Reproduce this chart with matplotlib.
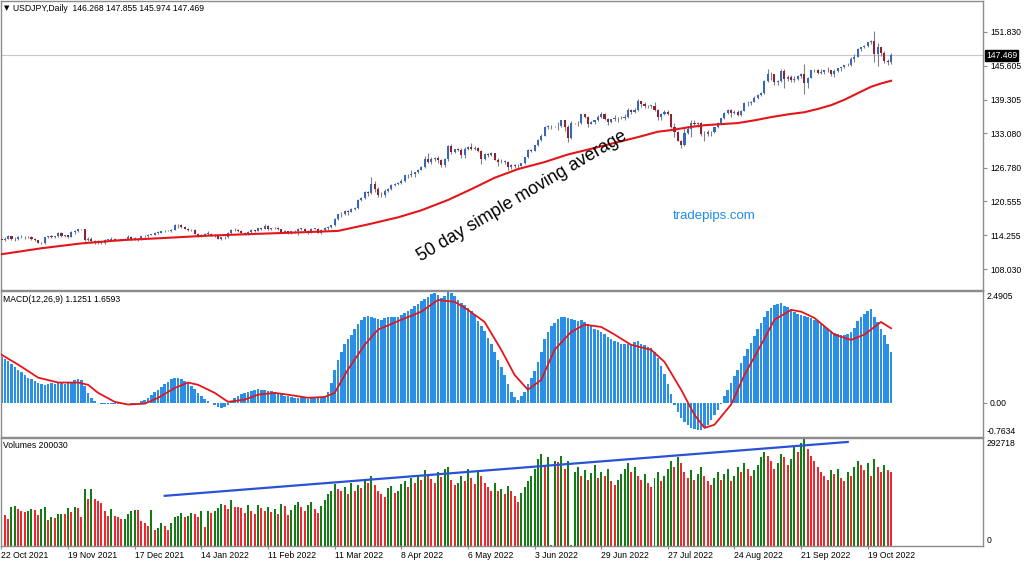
import numpy as np
import matplotlib.pyplot as plt

plt.rcParams['font.family'] = ['Liberation Sans', 'DejaVu Sans']

# ---- data ----
date_labels = ['22 Oct 2021', '19 Nov 2021', '17 Dec 2021', '14 Jan 2022', '11 Feb 2022',
               '11 Mar 2022', '8 Apr 2022', '6 May 2022', '3 Jun 2022', '29 Jun 2022',
               '27 Jul 2022', '24 Aug 2022', '21 Sep 2022', '19 Oct 2022']
label_bars = list(range(0, 261, 20))

first_open = 113.7
closes = [
    113.5, 113.7, 114.1, 113.6, 113.6, 114.0, 114.0, 113.9, 114.0, 113.7,
    113.4, 112.9, 112.8, 113.9, 114.1, 113.9, 114.1, 114.8, 114.1, 114.3,
    114.0, 114.9, 115.1, 115.4, 115.4, 113.4, 113.6, 113.2, 112.8, 113.2,
    112.8, 113.5, 113.5, 113.7, 113.5, 113.4, 113.6, 113.7, 114.0, 113.7,
    113.7, 113.6, 114.1, 114.1, 114.4, 114.4, 114.8, 114.8, 115.0, 115.1,
    115.1, 115.3, 116.1, 116.1, 115.8, 115.5, 115.2, 115.3, 114.6, 114.2,
    114.2, 114.6, 114.6, 114.3, 114.1, 113.7, 113.9, 113.9, 114.7, 115.3,
    115.2, 115.1, 114.7, 114.5, 114.9, 115.2, 115.1, 115.6, 115.5, 116.0,
    115.4, 115.6, 115.6, 115.5, 114.9, 115.0, 114.7, 115.0, 115.0, 115.5,
    115.5, 115.0, 114.9, 115.5, 115.5, 114.8, 115.3, 115.7, 115.8, 116.1,
    117.3, 118.2, 118.3, 118.7, 118.6, 119.2, 119.4, 120.8, 121.2, 122.3,
    122.1, 123.8, 122.8, 121.8, 121.7, 122.5, 122.8, 123.6, 123.8, 123.9,
    124.3, 125.4, 125.4, 125.6, 125.9, 126.4, 126.9, 128.3, 127.9, 128.4,
    128.5, 128.1, 127.2, 128.4, 130.8, 129.7, 130.2, 130.1, 129.1, 130.2,
    130.5, 130.3, 130.4, 129.9, 128.3, 129.2, 129.1, 129.4, 128.2, 127.8,
    127.9, 127.9, 126.9, 127.3, 127.1, 127.1, 127.6, 128.7, 130.0, 129.9,
    130.9, 131.9, 132.6, 134.2, 134.4, 134.4, 134.4, 134.4, 135.5, 134.3,
    132.2, 135.0, 135.0, 135.1, 136.6, 136.2, 134.9, 135.2, 135.5, 136.1,
    136.6, 135.7, 135.2, 135.7, 135.9, 135.9, 136.0, 136.1, 137.4, 137.0,
    137.4, 139.0, 138.6, 138.1, 138.2, 138.2, 137.4, 136.1, 136.7, 137.0,
    136.6, 134.2, 133.3, 131.6, 130.9, 133.2, 133.9, 135.0, 134.9, 135.0,
    132.9, 133.0, 133.4, 133.3, 134.2, 135.0, 135.9, 136.9, 137.5, 136.8,
    137.1, 136.5, 137.2, 138.7, 138.7, 138.9, 139.7, 140.2, 140.5, 142.8,
    144.0, 144.1, 142.6, 142.8, 144.6, 143.2, 143.5, 142.9, 143.2, 143.7,
    144.0, 142.4, 143.4, 144.7, 144.8, 144.2, 144.4, 144.7, 144.8, 144.1,
    144.6, 145.1, 145.3, 145.7, 145.8, 146.9, 147.2, 148.7, 149.0, 149.2,
    149.9, 150.1, 147.7, 149.0, 148.0, 146.4, 146.268, 147.469]
highs = [
    113.9, 113.9, 114.3, 114.2, 113.9, 114.2, 114.4, 114.2, 114.2, 114.1,
    113.8, 113.5, 113.1, 114.0, 114.2, 114.3, 114.2, 114.9, 114.9, 114.4,
    114.4, 115.0, 115.2, 115.5, 115.5, 115.5, 113.9, 113.9, 113.4, 113.4,
    113.3, 113.6, 113.7, 113.9, 113.8, 113.6, 113.7, 113.8, 114.3, 114.1,
    113.9, 113.8, 114.2, 114.3, 114.5, 114.5, 114.9, 115.0, 115.1, 115.2,
    115.2, 115.4, 116.3, 116.4, 116.3, 116.0, 115.7, 115.5, 115.4, 114.7,
    114.5, 114.7, 115.0, 114.7, 114.5, 114.2, 114.0, 114.2, 114.9, 115.5,
    115.7, 115.4, 115.3, 114.9, 115.0, 115.4, 115.3, 115.7, 115.7, 116.3,
    116.1, 115.7, 115.8, 115.8, 115.5, 115.2, 115.1, 115.1, 115.3, 115.7,
    115.7, 115.6, 115.2, 115.7, 115.7, 115.6, 115.4, 115.8, 116.0, 116.2,
    117.4, 118.3, 118.5, 119.0, 119.0, 119.3, 119.5, 120.9, 121.4, 122.4,
    122.5, 125.1, 124.3, 123.2, 122.3, 122.8, 123.1, 123.8, 124.0, 124.1,
    124.7, 125.5, 125.6, 126.3, 126.0, 126.5, 127.0, 129.0, 129.4, 128.7,
    128.8, 128.9, 128.3, 128.6, 131.0, 131.2, 130.3, 130.4, 130.4, 130.5,
    130.8, 131.3, 130.8, 130.5, 130.0, 129.4, 129.5, 129.6, 129.5, 128.6,
    128.4, 128.1, 128.0, 127.5, 127.4, 127.4, 127.7, 128.8, 130.2, 130.2,
    130.9, 132.0, 133.0, 134.5, 134.6, 134.6, 134.4, 135.2, 135.6, 135.5,
    134.7, 135.4, 135.0, 135.4, 136.7, 136.7, 136.3, 135.4, 135.6, 136.4,
    137.0, 136.9, 135.9, 135.8, 136.4, 136.1, 136.3, 136.6, 137.8, 137.6,
    137.8, 139.4, 139.0, 138.9, 138.4, 138.4, 138.9, 137.6, 136.9, 137.5,
    137.5, 136.6, 135.0, 133.6, 131.9, 134.1, 134.5, 135.5, 135.6, 135.2,
    135.2, 133.5, 133.7, 133.6, 134.3, 135.2, 136.0, 137.0, 137.6, 137.6,
    137.4, 137.5, 137.5, 138.9, 139.0, 139.1, 139.9, 140.4, 140.8, 143.0,
    145.0, 144.4, 144.1, 142.9, 144.9, 144.9, 143.9, 143.8, 143.6, 143.8,
    144.3, 145.9, 143.5, 144.8, 145.0, 144.9, 144.9, 144.8, 145.4, 144.8,
    144.9, 145.2, 145.4, 145.7, 146.0, 147.1, 147.7, 148.9, 149.1, 149.4,
    150.0, 150.3, 151.9, 149.7, 149.1, 148.3, 146.8, 147.855]
lows = [
    113.4, 113.3, 113.6, 113.5, 113.3, 113.5, 113.8, 113.7, 113.8, 113.5,
    113.2, 112.8, 112.7, 112.7, 113.8, 113.8, 113.8, 114.0, 114.0, 114.0,
    113.8, 113.9, 114.6, 114.9, 115.2, 113.3, 113.2, 112.9, 112.6, 112.6,
    112.6, 112.7, 113.3, 113.4, 113.4, 113.3, 113.3, 113.5, 113.6, 113.5,
    113.5, 113.3, 113.5, 113.9, 114.0, 114.3, 114.3, 114.5, 114.7, 114.9,
    115.0, 114.9, 115.2, 115.7, 115.7, 115.4, 115.1, 115.0, 114.5, 114.0,
    113.9, 114.1, 114.4, 114.2, 113.9, 113.6, 113.5, 113.6, 113.8, 114.5,
    115.0, 114.9, 114.6, 114.4, 114.4, 114.7, 114.9, 115.0, 115.3, 115.4,
    115.3, 115.2, 115.4, 115.3, 114.8, 114.8, 114.5, 114.6, 114.7, 114.4,
    115.3, 114.9, 114.6, 114.8, 115.4, 114.8, 114.6, 115.1, 115.3, 115.6,
    116.0, 117.1, 117.7, 118.1, 118.0, 118.5, 118.9, 119.2, 120.6, 121.0,
    121.6, 122.0, 122.3, 121.3, 121.3, 121.3, 122.2, 122.6, 123.4, 123.5,
    123.8, 124.2, 124.9, 125.1, 125.1, 125.7, 126.3, 126.8, 127.6, 127.5,
    128.0, 127.6, 126.9, 126.9, 128.0, 129.3, 129.5, 129.8, 128.6, 128.6,
    130.0, 130.0, 130.0, 129.7, 127.5, 128.2, 128.7, 129.0, 128.1, 127.0,
    127.6, 127.5, 126.4, 126.6, 126.8, 126.7, 127.0, 127.5, 128.6, 129.6,
    129.8, 130.7, 131.6, 132.6, 133.9, 133.9, 134.3, 133.7, 134.2, 133.5,
    131.5, 132.1, 134.9, 134.4, 134.9, 135.9, 134.3, 134.8, 134.9, 135.3,
    135.9, 135.6, 134.7, 135.0, 135.3, 135.2, 135.7, 135.6, 136.0, 136.6,
    136.8, 137.2, 138.0, 137.7, 137.7, 137.8, 137.3, 135.6, 135.6, 136.5,
    136.4, 134.1, 132.5, 131.6, 130.4, 130.8, 133.0, 132.5, 134.4, 134.3,
    132.6, 131.7, 132.7, 132.6, 133.2, 134.1, 134.8, 135.8, 136.7, 136.2,
    136.6, 136.3, 136.3, 137.2, 138.2, 138.3, 138.8, 139.4, 140.0, 140.4,
    142.6, 143.0, 142.0, 142.0, 142.5, 141.5, 142.8, 142.5, 142.6, 142.9,
    143.3, 140.3, 141.5, 143.3, 144.5, 144.0, 144.0, 144.1, 144.5, 143.6,
    143.5, 144.4, 144.6, 145.1, 145.5, 145.6, 146.2, 147.1, 148.3, 148.8,
    149.1, 149.6, 146.2, 145.6, 147.4, 146.1, 145.7, 145.974]

# 50 day SMA, read at sample bars
sma_bars = [0, 12, 24, 36, 49, 61, 74, 88, 101, 110, 119, 126, 134, 141, 148, 155, 163,
            170, 178, 185, 191, 197, 201, 206, 211, 216, 221, 226, 231, 236, 241, 245,
            249, 253, 256, 261, 264, 267]
sma_vals = [110.8, 111.9, 112.8, 113.4, 113.8, 114.2, 114.5, 114.8, 115.1, 116.3, 117.6,
            118.9, 120.8, 122.8, 124.9, 126.5, 127.8, 129.2, 130.4, 131.5, 132.4, 133.4,
            133.7, 134.2, 134.6, 134.8, 135.0, 135.5, 136.1, 136.6, 137.0, 137.6, 138.3,
            139.3, 140.2, 141.7, 142.3, 142.8]

macd_hist = [
    1.01, 0.98, 0.92, 0.86, 0.80, 0.74, 0.68, 0.62, 0.56, 0.52,
    0.48, 0.45, 0.42, 0.40, 0.42, 0.43, 0.42, 0.44, 0.43, 0.42,
    0.43, 0.47, 0.50, 0.52, 0.50, 0.38, 0.22, 0.10, 0.04, -0.01,
    -0.03, -0.03, -0.02, -0.03, -0.02, -0.03, -0.02, -0.02, -0.01, -0.02,
    -0.02, -0.01, 0.03, 0.06, 0.11, 0.17, 0.23, 0.29, 0.35, 0.41,
    0.47, 0.52, 0.56, 0.56, 0.52, 0.48, 0.44, 0.38, 0.30, 0.22,
    0.15, 0.08, 0.04, 0.00, -0.05, -0.09, -0.11, -0.10, -0.04, 0.05,
    0.10, 0.15, 0.19, 0.22, 0.25, 0.26, 0.28, 0.30, 0.29, 0.29,
    0.27, 0.26, 0.24, 0.22, 0.19, 0.16, 0.14, 0.12, 0.11, 0.11,
    0.12, 0.10, 0.09, 0.10, 0.12, 0.11, 0.12, 0.15, 0.25, 0.45,
    0.74, 0.95, 1.12, 1.30, 1.42, 1.52, 1.64, 1.75, 1.84, 1.91,
    1.93, 1.90, 1.88, 1.86, 1.85, 1.88, 1.91, 1.90, 1.90, 1.91,
    1.95, 2.00, 2.04, 2.10, 2.15, 2.20, 2.26, 2.32, 2.36, 2.42,
    2.45, 2.40, 2.33, 2.38, 2.49, 2.45, 2.38, 2.30, 2.22, 2.18,
    2.12, 2.05, 1.95, 1.82, 1.70, 1.60, 1.45, 1.30, 1.12, 0.96,
    0.80, 0.62, 0.42, 0.25, 0.12, 0.07, 0.15, 0.25, 0.42, 0.55,
    0.70, 0.90, 1.12, 1.41, 1.58, 1.72, 1.78, 1.86, 1.92, 1.91,
    1.88, 1.86, 1.84, 1.82, 1.85, 1.80, 1.75, 1.70, 1.64, 1.62,
    1.58, 1.53, 1.47, 1.42, 1.37, 1.35, 1.32, 1.30, 1.32, 1.30,
    1.35, 1.38, 1.32, 1.28, 1.25, 1.22, 1.14, 1.00, 0.83, 0.63,
    0.42, 0.20, -0.04, -0.20, -0.35, -0.43, -0.50, -0.56, -0.59, -0.61,
    -0.60, -0.55, -0.49, -0.38, -0.27, -0.16, -0.02, 0.14, 0.29, 0.44,
    0.59, 0.74, 0.89, 1.04, 1.19, 1.34, 1.49, 1.64, 1.78, 1.91,
    2.04, 2.12, 2.18, 2.20, 2.22, 2.16, 2.13, 2.08, 2.02, 1.97,
    1.95, 1.93, 1.91, 1.88, 1.85, 1.82, 1.76, 1.70, 1.64, 1.60,
    1.56, 1.53, 1.52, 1.52, 1.53, 1.58, 1.66, 1.82, 1.92, 1.98,
    2.04, 2.08, 1.91, 1.80, 1.64, 1.50, 1.30, 1.1251]

# signal line, read at sample bars
signal_bars = [0, 5, 11, 17, 23, 26, 29, 34, 38, 43, 47, 52, 56, 59, 64, 68, 73, 77, 82,
               86, 92, 97, 100, 104, 109, 113, 120, 126, 131, 136, 140, 145, 150, 154,
               158, 162, 166, 171, 175, 180, 184, 189, 195, 199, 204, 208, 211, 214, 219,
               223, 228, 232, 237, 240, 244, 250, 255, 259, 264, 267]
signal_vals = [1.07, 0.85, 0.56, 0.45, 0.45, 0.40, 0.22, 0.02, -0.04, -0.02, 0.11, 0.33,
               0.45, 0.40, 0.22, 0.02, 0.07, 0.18, 0.22, 0.18, 0.11, 0.13, 0.22, 0.74,
               1.29, 1.63, 1.85, 2.03, 2.29, 2.25, 2.07, 1.80, 1.18, 0.62, 0.29, 0.51,
               1.18, 1.58, 1.74, 1.69, 1.52, 1.29, 1.18, 0.91, 0.29, -0.27, -0.56, -0.49,
               -0.04, 0.62, 1.29, 1.85, 2.07, 2.03, 1.89, 1.52, 1.40, 1.52, 1.80, 1.6593]

volumes = [  # thousands of ticks
    98, 84, 72, 107, 109, 100, 95, 93, 95, 99,
    98, 84, 99, 107, 70, 78, 75, 86, 87, 86,
    102, 91, 105, 104, 79, 154, 127, 154, 127, 123,
    116, 95, 81, 100, 81, 79, 73, 74, 86, 95,
    98, 97, 68, 63, 55, 98, 43, 50, 63, 55,
    43, 61, 79, 80, 89, 79, 82, 89, 87, 79,
    95, 52, 95, 89, 95, 102, 113, 112, 99, 125,
    107, 106, 104, 89, 111, 95, 88, 110, 102, 96,
    105, 92, 100, 88, 115, 108, 84, 98, 110, 120,
    105, 96, 112, 118, 101, 90, 108, 125, 140, 150,
    168, 155, 148, 160, 142, 172, 150, 165, 158, 180,
    170, 190, 165, 150, 140, 132, 158, 162, 145, 150,
    168, 175, 160, 185, 170, 190, 178, 205, 196, 182,
    170, 200, 188, 210, 215, 180, 165, 172, 190, 175,
    210, 185, 168, 200, 190, 172, 160, 150, 170, 148,
    155, 140, 162, 150, 135, 120, 145, 160, 175, 190,
    210, 235, 250, 220, 240, 4, 230, 228, 245, 210,
    230, 4, 200, 215, 190, 205, 180, 198, 220, 185,
    200, 190, 210, 175, 165, 180, 195, 210, 225, 200,
    215, 190, 178, 195, 170, 160, 185, 200, 175, 190,
    210, 230, 215, 240, 225, 200, 185, 205, 180, 195,
    215, 190, 175, 165, 185, 200, 180, 195, 210, 175,
    190, 215, 200, 225, 210, 190, 205, 220, 240, 255,
    245, 230, 210, 225, 250, 240, 220, 235, 270, 255,
    280, 292.718, 262, 245, 230, 215, 200, 190, 180, 205,
    195, 210, 185, 175, 200, 190, 215, 230, 220, 205,
    225, 190, 235, 215, 200, 220, 205, 200.03]

trend_bars = [49, 254]
trend_vols = [136, 282]

price_ticks = [151.830, 145.605, 139.305, 133.080, 126.780, 120.555, 114.255, 108.030]

n = len(closes)
assert len(highs) == n and len(lows) == n and len(macd_hist) == n and len(volumes) == n
assert len(signal_bars) == len(signal_vals) and len(sma_bars) == len(sma_vals)

x = np.arange(n)
o = np.array([first_open] + closes[:-1])
c = np.array(closes)
up = c >= o

# ---- layout in pixels (1025 x 561) ----
W, H = 1025, 561
fig = plt.figure(figsize=(W / 100, H / 100), dpi=100)


def px_axes(x0, y0, x1, y1):
    return fig.add_axes([x0 / W, 1 - y1 / H, (x1 - x0) / W, (y1 - y0) / H])


ax_p = px_axes(0.5, 0.5, 983, 290)
ax_m = px_axes(0.5, 291, 983, 437)
ax_v = px_axes(0.5, 438, 983, 546)

frame = '#8c8c8c'
for ax in (ax_p, ax_m, ax_v):
    ax.set_xlim(-0.3, 294.6)
    for s in ax.spines.values():
        s.set_color(frame)
        s.set_linewidth(1)
    ax.yaxis.tick_right()
    ax.tick_params(axis='y', length=3, width=0.8, color=frame, labelsize=6.2, pad=2)
    ax.tick_params(axis='x', bottom=False, labelbottom=False)

# price candles
ax_p.vlines(x, lows, highs, color='#808080', lw=0.8, zorder=2)
body = np.maximum(np.abs(c - o), 0.06)
ax_p.bar(x[up], body[up], bottom=np.minimum(o, c)[up], width=0.62, color='#3768b8', zorder=3)
ax_p.bar(x[~up], body[~up], bottom=np.minimum(o, c)[~up], width=0.62, color='#8e2232', zorder=3)
ax_p.plot(sma_bars, sma_vals, color='#e4161c', lw=1.5, zorder=4)
ax_p.axhline(closes[-1], color='#c8c8c8', lw=0.8, zorder=1)
ax_p.set_ylim(104.20, 157.61)
ax_p.set_yticks(price_ticks)
ax_p.set_yticklabels([f'{v:.3f}' for v in price_ticks])
ax_p.text(1.003, closes[-1], f'{closes[-1]:.3f}', transform=ax_p.get_yaxis_transform(),
          ha='left', va='center', fontsize=6.2, color='white',
          bbox=dict(boxstyle='square,pad=0.12', fc='black', ec='black'))
ax_p.text(0.004, 0.985, '\u25bc', transform=ax_p.transAxes, fontsize=5, family='DejaVu Sans',
          ha='left', va='top')
ax_p.text(0.013, 0.988, 'USDJPY,Daily  146.268 147.855 145.974 147.469', transform=ax_p.transAxes,
          fontsize=6.2, ha='left', va='top')
fig.text(522 / W, 1 - 196 / H, '50 day simple moving average', rotation=30.7, fontsize=12.8,
         ha='center', va='center', rotation_mode='anchor')
fig.text(714 / W, 1 - 216 / H, 'tradepips.com', fontsize=9.5, color='#1f8ceb',
         ha='center', va='center')

# MACD
ax_m.bar(x, macd_hist, width=0.78, color='#2b8fe6', zorder=2)
ax_m.plot(signal_bars, signal_vals, color='#e4161c', lw=1.3, zorder=3)
ax_m.set_ylim(-0.7634, 2.4905)
ax_m.set_yticks([0])
ax_m.set_yticklabels(['0.00'])
ax_m.text(1.004, 0.99, '2.4905', transform=ax_m.transAxes, ha='left', va='top', fontsize=6.2)
ax_m.text(1.004, 0.01, '-0.7634', transform=ax_m.transAxes, ha='left', va='bottom', fontsize=6.2)
ax_m.text(0.003, 0.975, 'MACD(12,26,9) 1.1251 1.6593', transform=ax_m.transAxes,
          ha='left', va='top', fontsize=6.2)

# Volumes
v = np.array(volumes)
rising = np.r_[True, v[1:] > v[:-1]]
ax_v.bar(x, v, width=0.6, color=np.where(rising, '#127d14', '#ea2a2e'), zorder=2)
ax_v.plot(trend_bars, trend_vols, color='#2a52d4', lw=1.6, zorder=3)
ax_v.set_ylim(0, 292.718)
ax_v.set_yticks([])
ax_v.text(1.004, 0.99, '292718', transform=ax_v.transAxes, ha='left', va='top', fontsize=6.2)
ax_v.text(1.004, 0.01, '0', transform=ax_v.transAxes, ha='left', va='bottom', fontsize=6.2)
ax_v.text(0.003, 0.97, 'Volumes 200030', transform=ax_v.transAxes, ha='left', va='top', fontsize=6.2)
ax_v.tick_params(axis='x', bottom=True, labelbottom=True, length=2, width=0.8, color=frame,
                 labelsize=6.2, pad=1.5)
ax_v.set_xticks(label_bars)
ax_v.set_xticklabels(date_labels, ha='left')

fig.savefig('out.png', dpi=100)
